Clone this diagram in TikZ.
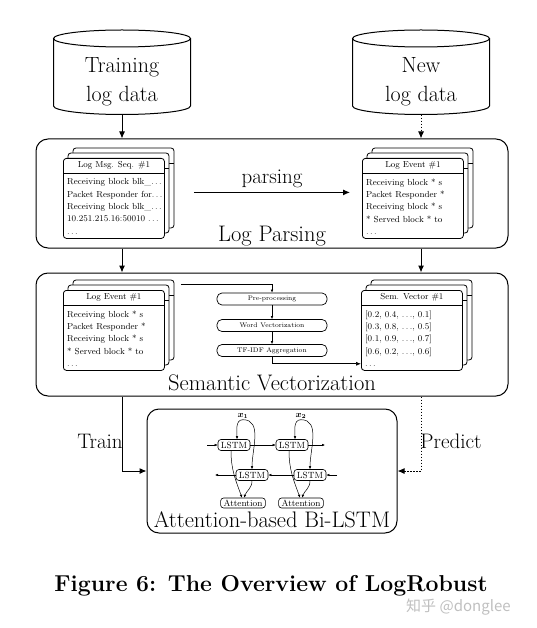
\documentclass[tikz,border=0pt]{standalone}
\usepackage{fontspec}
\newfontfamily\cjk{Noto Sans CJK SC}
\usetikzlibrary{arrows.meta}
\newcommand{\dts}{.\,.\,.}
\newcommand{\dbcyl}[4]{%
  \draw[line width=1pt, fill=white] (#2-68.5,38.5) -- (#2-68.5,106) arc[start angle=180,end angle=0,x radius=68.5,y radius=8.5] -- (#2+68.5,38.5);
  \draw[line width=1pt] (#2,38.5) ellipse[x radius=68.5, y radius=8.5];
  \node[align=center, minimum width=137pt, minimum height=65pt, inner sep=0pt, font=\fontsize{22}{29}\selectfont] (#1) at (#2,82) {#3\\#4};
}
\newcommand{\cardstack}[6]{%
  \draw[card] (#2+10,#3-10) rectangle ++(#6,80);
  \draw[line width=0.6pt] (#2+10,#3+5) -- ++(#6,0);
  \draw[card] (#2+5,#3-5) rectangle ++(#6,80);
  \draw[line width=0.6pt] (#2+5,#3+10) -- ++(#6,0);
  \node[card, minimum width=#6 pt, minimum height=80pt, anchor=north west, inner sep=0pt] (#1) at (#2,#3) {};
  \draw[line width=0.6pt] ([yshift=-15pt]#1.north west) -- ([yshift=-15pt]#1.north east);
  \node[cardhead] at ([yshift=-7.5pt]#1.north) {#4};
  \node[cardbody, anchor=north west] at ([shift={(4pt,-20.5pt)}]#1.north west) {#5};
}
\begin{document}
\begin{tikzpicture}[x=1pt,y=-1pt,
  big/.style={draw, line width=1pt, rounded corners=12pt},
  arr/.style={line width=1pt, -{Latex[length=7pt,width=6pt]}},
  marr/.style={line width=0.7pt, -{Latex[length=5pt,width=4pt]}},
  sarr/.style={line width=0.5pt, -{Latex[length=3pt,width=2.6pt]}},
  dotline/.style={dash pattern=on 1.5pt off 1.5pt},
  card/.style={draw, line width=0.8pt, fill=white, rounded corners=3pt},
  cardhead/.style={font=\fontsize{8.7}{10}\selectfont},
  cardbody/.style={font=\fontsize{8.8}{12.3}\selectfont, align=left, inner sep=0pt},
  pbox/.style={draw, line width=0.7pt, rounded corners=5pt, minimum width=110pt, minimum height=12pt, inner sep=0pt, font=\fontsize{6.7}{7}\selectfont},
  lstm/.style={draw, line width=0.6pt, rounded corners=3pt, inner xsep=3pt, inner ysep=1pt, minimum height=11pt, font=\fontsize{9}{10}\selectfont},
  title/.style={font=\fontsize{22.5}{26}\selectfont},
  lab/.style={font=\fontsize{21}{24}\selectfont},
]
\useasboundingbox (0,0) rectangle (537,628);

% databases
\dbcyl{tr}{122}{Training}{log data}
\dbcyl{nw}{421}{New}{log data}

% big boxes
\node[big, minimum width=472pt, minimum height=109pt] (lp) at (272,193.5) {};
\node[title] (lplab) at (272,236) {Log Parsing};
\node[big, minimum width=472pt, minimum height=123pt] (sv) at (272,334.5) {};
\node[title] (svlab) at (272,383) {Semantic Vectorization};
\node[big, minimum width=250pt, minimum height=124pt] (att) at (272,471) {};
\node[title] (attlab) at (272,520) {Attention-based Bi-LSTM};

% arrows between stages
\draw[arr] (tr.south) -- (tr.south |- lp.north);
\draw[arr, dotline] (nw.south) -- (nw.south |- lp.north);
\draw[arr] (tr.south |- lp.south) -- (tr.south |- sv.north);
\draw[arr] (nw.south |- lp.south) -- (nw.south |- sv.north);
\draw[arr] (tr.south |- sv.south) |- (att.west);
\draw[arr, dotline] (nw.south |- sv.south) |- (att.east);
\node[lab] (trainlab) at (100,441) {Train};
\node[lab] (predlab) at (451,441) {Predict};

% log parsing cards
\cardstack{lpa}{63}{158}{Log Msg. Seq. \#1}{Receiving block blk\_\dts\\Packet Responder for\dts\\Receiving block blk\_\dts\\10.251.215.16:50010 \dts\\\dts}{101}
\cardstack{lpb}{362}{158}{Log Event \#1}{Receiving block * s\\Packet Responder *\\Receiving block * s\\* Served block * to\\\dts}{101}
\draw[arr, shorten <=29pt, shorten >=12pt] ([yshift=6pt]lpa.east) -- ([yshift=6pt]lpb.west);
\node[lab] (parslab) at (272,179) {parsing};

% semantic vectorization cards
\cardstack{sva}{63}{290}{Log Event \#1}{Receiving block * s\\Packet Responder *\\Receiving block * s\\* Served block * to\\\dts}{101}
\cardstack{svb}{361}{290}{Sem. Vector \#1}{{[0.2, 0.4, \dts, 0.1]}\\{[0.3, 0.8, \dts, 0.5]}\\{[0.1, 0.9, \dts, 0.7]}\\{[0.6, 0.2, \dts, 0.6]}\\\dts}{101}

% pipeline
\node[pbox] (pre) at (272,299) {Pre-processing};
\node[pbox] (wv) at (272,325.5) {Word Vectorization};
\node[pbox] (tf) at (272,350.5) {TF-IDF Aggregation};
\draw[sarr, line width=0.7pt] ([shift={(16pt,6pt)}]sva.north east) -| (pre.north);
\draw[sarr, line width=0.7pt] (pre) -- (wv);
\draw[sarr, line width=0.7pt] (wv) -- (tf);
\draw[marr] (tf.south) |- ([yshift=7pt]svb.south west);

% Bi-LSTM
\node[lstm] (l1) at (234,445) {LSTM};
\node[lstm] (l2) at (252,475) {LSTM};
\node[lstm] (l3) at (292,445) {LSTM};
\node[lstm] (l4) at (310,475) {LSTM};
\node[lstm, minimum height=10pt] (a1) at (243,503) {Attention};
\node[lstm, minimum height=10pt] (a2) at (301,503) {Attention};
\node[font=\fontsize{9}{10}\selectfont\boldmath, inner sep=1pt] (x1) at (243,416) {$x_1$};
\node[font=\fontsize{9}{10}\selectfont\boldmath, inner sep=1pt] (x2) at (301,416) {$x_2$};
\coordinate (t0) at (207,445);
\coordinate (t9) at (325,445);
\coordinate (b0) at (215,475);
\coordinate (b9) at (337,475);
\draw[sarr] (t0) -- (l1.west);
\draw[sarr] (l1.east) -- (l3.west);
\draw[sarr] (l3.east) -- (t9);
\draw[sarr] (b9) -- (l4.east);
\draw[sarr] (l4.west) -- (l2.east);
\draw[sarr] (l2.west) -- (b0);
\draw[sarr] (x1.south) to[out=180,in=90] ([xshift=3pt]l1.north);
\draw[sarr] (x1.south) to[out=0,in=90] (l2.north);
\draw[sarr] ([xshift=-3pt]l1.south) to[out=-90,in=110] ([xshift=-1pt]a1.north);
\draw[sarr] (l2.south) to[out=-90,in=70] ([xshift=1pt]a1.north);
\draw[sarr] (x2.south) to[out=180,in=90] ([xshift=3pt]l3.north);
\draw[sarr] (x2.south) to[out=0,in=90] (l4.north);
\draw[sarr] ([xshift=-3pt]l3.south) to[out=-90,in=110] ([xshift=-1pt]a2.north);
\draw[sarr] (l4.south) to[out=-90,in=70] ([xshift=1pt]a2.north);

% caption
\node[font=\fontsize{23}{26}\selectfont\bfseries] (cap) at (271,586) {Figure 6: The Overview of LogRobust};
\node[text=black!25, font=\cjk\fontsize{15}{16}\selectfont, anchor=west, inner sep=0pt] (wm) at (406,607) {知乎 @donglee};
\end{tikzpicture}
\end{document}
